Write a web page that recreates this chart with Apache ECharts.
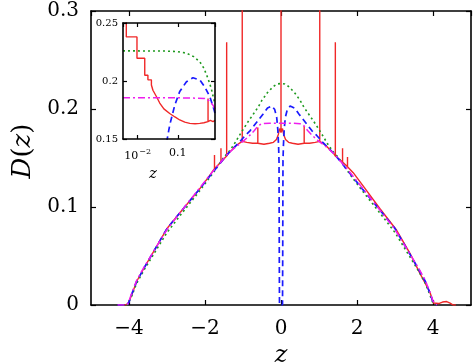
<!DOCTYPE html>
<html><head><meta charset="utf-8">
<script src="https://cdn.jsdelivr.net/npm/echarts@6/dist/echarts.min.js"></script>
<style>html,body{margin:0;padding:0;background:#fff}#c{width:474px;height:362px}</style>
</head><body><div id="c"></div>
<script>
// ---- main panel data (z, D(z)) ----
const redZ = [-4.1,-4.03,-3.93,-3.8,-3.6,-3.3,-3.0,-2.6,-2.15,-1.9,-1.75,-1.75,-1.75,-1.58,-1.58,-1.58,-1.43,-1.43,-1.43,-1.38,-1.3,-1.2,-1.1,-1.02,-1.02,-1.02,-0.9,-0.75,-0.61,-0.61,-0.61,-0.45,-0.3,-0.2,-0.12,-0.07,-0.04,0,0,0,0.04,0.07,0.12,0.2,0.3,0.45,0.61,0.61,0.61,0.75,0.9,1.02,1.02,1.02,1.1,1.2,1.3,1.38,1.43,1.43,1.43,1.62,1.62,1.62,1.75,1.75,1.75,1.9,2.17,2.61,3.04,3.39,3.66,3.92,4.01,4.05,4.15,4.25,4.36,4.45,4.53,4.6];
const redD = [0,0.001,0.010,0.024,0.038,0.058,0.078,0.097,0.118,0.131,0.139,0.153,0.139,0.146,0.160,0.146,0.152,0.268,0.152,0.155,0.158,0.162,0.165,0.167,0.35,0.167,0.166,0.165,0.165,0.181,0.165,0.164,0.165,0.166,0.169,0.174,0.180,0.176,0.35,0.176,0.180,0.174,0.169,0.166,0.165,0.164,0.165,0.183,0.165,0.165,0.166,0.167,0.35,0.167,0.165,0.162,0.158,0.155,0.152,0.268,0.152,0.146,0.160,0.146,0.141,0.151,0.141,0.135,0.121,0.098,0.0765,0.053,0.032,0.013,0.002,0,0.0015,0.003,0.0035,0.002,0,0];

const greenZ = [-4.2,-4.05,-4.0,-3.93,-3.8,-3.6,-3.3,-3.0,-2.6,-2.15,-1.8,-1.5,-1.38,-1.25,-1.11,-1.0,-0.85,-0.76,-0.6,-0.5,-0.35,-0.2,-0.1,0,0.1,0.2,0.35,0.5,0.6,0.76,0.85,1.0,1.11,1.25,1.38,1.5,1.8,2.15,2.6,3.0,3.3,3.6,3.8,3.93,4.0,4.05];
const greenD = [0,0,0.002,0.009,0.022,0.036,0.055,0.074,0.094,0.116,0.134,0.151,0.156,0.163,0.172,0.179,0.188,0.193,0.202,0.209,0.217,0.223,0.2255,0.226,0.2255,0.223,0.217,0.209,0.202,0.193,0.188,0.179,0.172,0.163,0.156,0.151,0.134,0.116,0.094,0.074,0.055,0.036,0.022,0.009,0.002,0];

const blueZ = [-4.3,-4.05,-4.0,-3.93,-3.8,-3.6,-3.3,-3.0,-2.6,-2.15,-1.8,-1.45,-1.38,-1.25,-1.1,-0.94,-0.81,-0.63,-0.47,-0.355,-0.24,-0.165,-0.112,-0.084,-0.063,-0.052,-0.045,-0.04,0.04,0.045,0.052,0.063,0.084,0.112,0.165,0.24,0.355,0.47,0.63,0.81,0.94,1.1,1.25,1.38,1.45,1.8,2.15,2.6,3.0,3.3,3.6,3.8,3.93,4.0,4.1];
const blueD = [0,0,0.003,0.011,0.024,0.038,0.058,0.078,0.097,0.118,0.135,0.152,0.155,0.160,0.166,0.173,0.178,0.187,0.195,0.201,0.203,0.1994,0.191,0.179,0.162,0.146,0.05,0,0,0.05,0.146,0.162,0.179,0.191,0.1994,0.203,0.201,0.195,0.187,0.178,0.173,0.166,0.160,0.155,0.152,0.135,0.118,0.097,0.078,0.058,0.038,0.024,0.011,0.003,0];

const magentaZ = [-4.3,-4.05,-4.0,-3.93,-3.8,-3.6,-3.3,-3.0,-2.6,-2.15,-1.8,-1.45,-1.38,-1.2,-1.0,-0.85,-0.7,-0.6,-0.5,-0.3,0,0.3,0.5,0.6,0.7,0.85,1.0,1.2,1.38,1.45,1.8,2.15,2.6,3.0,3.3,3.6,3.8,3.93,4.0,4.1];
const magentaD = [0,0,0.004,0.012,0.025,0.039,0.058,0.077,0.097,0.119,0.136,0.152,0.155,0.161,0.167,0.172,0.178,0.183,0.185,0.1855,0.1855,0.1855,0.185,0.183,0.178,0.172,0.167,0.161,0.155,0.152,0.136,0.119,0.097,0.077,0.058,0.039,0.025,0.012,0.004,0];

// ---- inset data (log z) ----
const inRedZ = [0.0043,0.0052,0.0052,0.0096,0.0096,0.015,0.015,0.018,0.018,0.022,0.022,0.024,0.024,0.03,0.0355,0.045,0.063,0.085,0.112,0.15,0.2,0.27,0.355,0.45,0.57,0.57,0.57,0.65,0.76,0.85];
const inRedD = [0.27,0.27,0.238,0.238,0.2196,0.2196,0.205,0.205,0.201,0.201,0.1966,0.1966,0.192,0.186,0.181,0.176,0.172,0.169,0.1664,0.1645,0.1635,0.1632,0.1635,0.164,0.165,0.185,0.165,0.166,0.165,0.166];
const inGreenZ = [0.0043,0.05,0.1,0.165,0.25,0.355,0.45,0.57,0.68,0.76,0.85];
const inGreenD = [0.226,0.2258,0.2253,0.224,0.221,0.2166,0.211,0.202,0.194,0.187,0.18];
const inBlueZ = [0.048,0.052,0.063,0.084,0.112,0.165,0.24,0.355,0.47,0.63,0.81,0.85];
const inBlueD = [0.13,0.146,0.162,0.179,0.191,0.1994,0.2028,0.2009,0.195,0.1865,0.175,0.172];
const inMagentaZ = [0.0043,0.1,0.3,0.47,0.6,0.76,0.85];
const inMagentaD = [0.1855,0.1855,0.1852,0.185,0.183,0.179,0.176];

const zip = (a,b) => a.map((v,i)=>[v,b[i]]);
const SERIF = 'DejaVu Serif';
const RED='#f02828', GREEN='#1f9a1f', BLUE='#1a1aff', MAG='#ee1eee';

const chart = echarts.init(document.getElementById('c'), null, {renderer:'canvas'});
const frameLine = {show:true, onZero:false, lineStyle:{color:'#000', width:1.6}};
function mainX(pos, labels){
  return {type:'value', gridIndex:0, position:pos, min:-5, max:5, splitNumber:5,
    axisLine:frameLine, splitLine:{show:false},
    axisTick:{show:true, inside:true, length:5, lineStyle:{color:'#000', width:1.2}},
    axisLabel:{show:labels, margin:14, fontFamily:SERIF, fontSize:20, color:'#000',
      showMinLabel:false, showMaxLabel:false,
      formatter: v => (Math.abs(v)>4.5?'':(v<0?'\u2212'+(-v):String(v)))},
    name: labels?'z':'', nameLocation:'middle', nameGap:38,
    nameTextStyle:{fontFamily:SERIF, fontStyle:'italic', fontSize:24, color:'#000'}};
}
function mainY(pos, labels){
  return {type:'value', gridIndex:0, position:pos, min:0, max:0.3, interval:0.1,
    axisLine:frameLine, splitLine:{show:false},
    axisTick:{show:true, inside:true, length:5, lineStyle:{color:'#000', width:1.2}},
    axisLabel:{show:labels, margin:12, fontFamily:SERIF, fontSize:20, color:'#000',
      formatter: v => String(Math.round(v*10)/10)},
    name: labels?'{d|D}({z|z})':'', nameLocation:'middle', nameGap:50,
    nameTextStyle:{fontFamily:SERIF, fontSize:26, color:'#000', padding:[0,0,0,14],
      rich:{d:{fontFamily:SERIF, fontStyle:'italic', fontSize:26, color:'#000'},
            z:{fontFamily:SERIF, fontStyle:'italic', fontSize:26, color:'#000'}}}};
}
function inX(pos, labels){
  return {type:'log', logBase:10, gridIndex:1, position:pos, min:0.0043, max:0.85, z:8,
    axisLine:frameLine, splitLine:{show:false}, minorTick:{show:false},
    axisTick:{show:true, inside:true, length:4, lineStyle:{color:'#000', width:1.2}},
    axisLabel:{show:labels, margin:9, fontFamily:SERIF, fontSize:11, color:'#000',
      showMinLabel:false, showMaxLabel:false,
      formatter: v => { const e=Math.log10(v);
        if (Math.abs(e+2)<1e-6) return '{b|10}{s|\u22122}';
        if (Math.abs(e+1)<1e-6) return '0.1';
        return ''; },
      rich:{b:{fontFamily:SERIF, fontSize:11, color:'#000'},
            s:{fontFamily:SERIF, fontSize:8, color:'#000', padding:[0,0,9,1]}}},
    name: labels?'z':'', nameLocation:'middle', nameGap:28,
    nameTextStyle:{fontFamily:SERIF, fontStyle:'italic', fontSize:15, color:'#000', padding:[0,32,0,0]}};
}
function inY(pos, labels){
  return {type:'value', gridIndex:1, position:pos, min:0.15, max:0.25, interval:0.05, z:8,
    axisLine:frameLine, splitLine:{show:false},
    axisTick:{show:true, inside:true, length:4, lineStyle:{color:'#000', width:1.2}},
    axisLabel:{show:labels, margin:5, fontFamily:SERIF, fontSize:10, color:'#000',
      formatter: v => String(Math.round(v*100)/100)}};
}
function line(name, data, color, type, width, xi, yi, z){
  return {name, type:'line', data, xAxisIndex:xi, yAxisIndex:yi, symbol:'none', showSymbol:false,
    clip:true, z:z, animation:false,
    lineStyle:{color, width, type}};
}
chart.setOption({
  animation:false,
  backgroundColor:'#fff',
  grid:[
    {left:91, top:11, width:380, height:294, show:false, containLabel:false, outerBoundsMode:'none'},
    {left:123, top:23, width:92, height:116, show:true, backgroundColor:'#fff', borderWidth:0, z:5,
     containLabel:false, outerBoundsMode:'none'}
  ],
  xAxis:[mainX('bottom',true), mainX('top',false), inX('bottom',true), inX('top',false)],
  yAxis:[mainY('left',true), mainY('right',false), inY('left',true), inY('right',false)],
  series:[
    line('red', zip(redZ,redD), RED, 'solid', 1.4, 0,0,2),
    line('green', zip(greenZ,greenD), GREEN, [2,3], 1.6, 0,0,3),
    line('blue', zip(blueZ,blueD), BLUE, [6,4], 1.7, 0,0,3),
    line('magenta', zip(magentaZ,magentaD), MAG, [7,3,2,3], 1.5, 0,0,3),
    line('inRed', zip(inRedZ,inRedD), RED, 'solid', 1.4, 2,2,6),
    line('inGreen', zip(inGreenZ,inGreenD), GREEN, [2,3], 1.6, 2,2,6),
    line('inBlue', zip(inBlueZ,inBlueD), BLUE, [6,4], 1.7, 2,2,6),
    line('inMagenta', zip(inMagentaZ,inMagentaD), MAG, [7,3,2,3], 1.5, 2,2,6)
  ]
});
</script></body></html>
